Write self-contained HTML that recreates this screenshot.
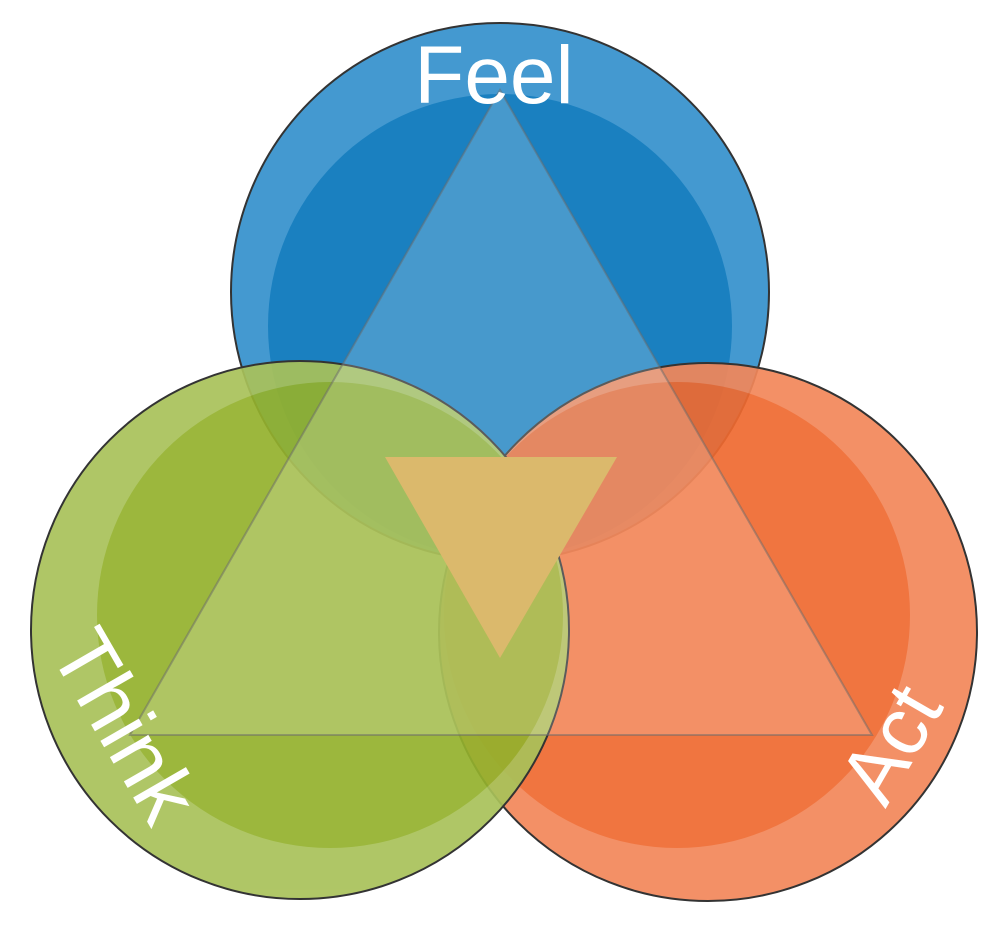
<!DOCTYPE html>
<html><head><style>html,body{margin:0;padding:0;background:#fff;}svg{display:block}</style></head>
<body>
<svg width="1000" height="928" viewBox="0 0 1000 928" xmlns="http://www.w3.org/2000/svg">
  <g>
    <circle cx="500" cy="292" r="269" fill="#4499d0" stroke="#333" stroke-width="2"/>
    <circle cx="500" cy="326" r="232" fill="#1a80c0"/>
  </g>
  <g opacity="0.92">
    <circle cx="708" cy="632" r="269" fill="#f2875a"/>
    <circle cx="677" cy="615" r="233" fill="#ef6a30"/>
  </g>
  <circle cx="708" cy="632" r="269" fill="none" stroke="#333" stroke-width="2"/>
  <g opacity="0.92">
    <circle cx="300" cy="630" r="269" fill="#a9c25a"/>
    <circle cx="330" cy="615" r="233" fill="#94b12d"/>
  </g>
  <circle cx="300" cy="630" r="269" fill="none" stroke="#333" stroke-width="2"/>
  <polygon points="500,90 130,735 872,735" fill="#ffffff" fill-opacity="0.2" stroke="#6a6a6a" stroke-opacity="0.5" stroke-width="2"/>
  <polygon points="385,457 617,457 500,658" fill="#dbb96c"/>
  <text x="494" y="103" font-family="Liberation Sans, sans-serif" font-size="82" fill="#fff" text-anchor="middle">Feel</text>
  <text transform="translate(100,740) rotate(60)" font-family="Liberation Sans, sans-serif" font-size="84" fill="#fff" text-anchor="middle">Think</text>
  <text transform="translate(915,758) rotate(-60)" font-family="Liberation Sans, sans-serif" font-size="82" fill="#fff" text-anchor="middle">Act</text>
</svg>
</body></html>
